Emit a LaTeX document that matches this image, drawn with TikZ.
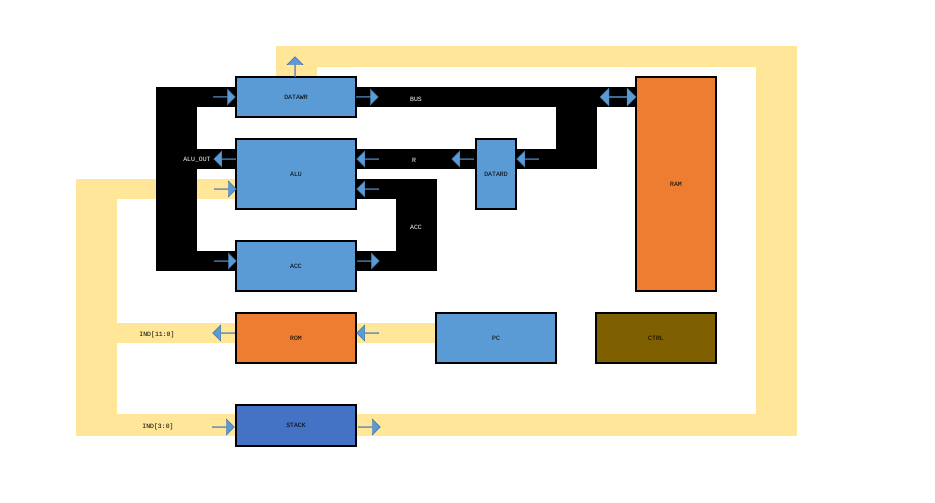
\documentclass[tikz,border=0pt]{standalone}
\usepackage{fontspec}
\setmainfont{Liberation Mono}
\usetikzlibrary{shapes.arrows}
\definecolor{blu}{HTML}{5B9BD5}
\definecolor{blub}{HTML}{41719C}
\definecolor{org}{HTML}{ED7D31}
\definecolor{brn}{HTML}{7F6000}
\definecolor{stk}{HTML}{4472C4}
\definecolor{yel}{HTML}{FFE699}
\begin{document}
\begin{tikzpicture}[x=1pt,y=-1pt,
  box/.style={draw=black,line width=1.5pt},
  lbl/.style={font=\fontsize{6.5}{7}\selectfont},
  wl/.style={lbl,text=white},
  arr/.style={single arrow,fill=blu,draw=blub,line width=0.4pt,minimum height=22pt,minimum width=16pt,single arrow head extend=3pt,inner sep=0pt},
  darr/.style={double arrow,fill=blu,draw=blub,line width=0.4pt,minimum height=36pt,minimum width=18pt,double arrow head extend=3pt,inner sep=0pt}]
\useasboundingbox (0,0) rectangle (935,503);
% yellow bands
\fill[yel] (276,46) rectangle (797,67);
\fill[yel] (276,46) rectangle (317,77);
\fill[yel] (756,46) rectangle (797,436);
\fill[yel] (76,414) rectangle (797,436);
\fill[yel] (76,179) rectangle (117,436);
\fill[yel] (76,179) rectangle (236,199);
\fill[yel] (117,323) rectangle (436,343);
% black bands
\fill[black] (156,87) rectangle (636,107);
\fill[black] (556,87) rectangle (597,169);
\fill[black] (156,149) rectangle (597,169);
\fill[black] (156,87) rectangle (197,271);
\fill[black] (156,251) rectangle (236,271);
\fill[black] (356,179) rectangle (437,199);
\fill[black] (396,179) rectangle (437,271);
\fill[black] (356,251) rectangle (437,271);
% boxes
\node[box,fill=blu,lbl,minimum width=120pt,minimum height=40pt] (datawr) at (296,97) {DATAWR};
\node[box,fill=blu,lbl,minimum width=120pt,minimum height=70pt] (alu) at (296,174) {ALU};
\node[box,fill=blu,lbl,minimum width=120pt,minimum height=50pt] (acc) at (296,266) {ACC};
\node[box,fill=blu,lbl,minimum width=40pt,minimum height=70pt] (datard) at (496,174) {DATARD};
\node[box,fill=org,lbl,minimum width=80pt,minimum height=214pt] (ram) at (676,184) {RAM};
\node[box,fill=org,lbl,minimum width=120pt,minimum height=50pt] (rom) at (296,338) {ROM};
\node[box,fill=blu,lbl,minimum width=120pt,minimum height=50pt] (pc) at (496,338) {PC};
\node[box,fill=brn,lbl,minimum width=120pt,minimum height=50pt] (ctrl) at (656,338) {CTRL};
\node[box,fill=stk,lbl,minimum width=120pt,minimum height=41pt] (stack) at (296,425.5) {STACK};
% arrows
\node[arr] (a1) at (224,97) {};
\node[arr] (a2) at (367,97) {};
\node[darr] (a3) at (618,97) {};
\node[arr,shape border rotate=90,minimum height=20pt] (a4) at (295,67) {};
\node[arr,shape border rotate=180] (a5) at (225,159) {};
\node[arr,shape border rotate=180] (a6) at (368,159) {};
\node[arr,shape border rotate=180] (a7) at (463,159) {};
\node[arr,shape border rotate=180] (a8) at (528,159) {};
\node[arr] (a9) at (225,189) {};
\node[arr,shape border rotate=180] (a10) at (368,189) {};
\node[arr] (a11) at (225,261) {};
\node[arr] (a12) at (368,261) {};
\node[arr,shape border rotate=180] (a13) at (224,333) {};
\node[arr,shape border rotate=180] (a14) at (368,333) {};
\node[arr] (a15) at (223,427) {};
\node[arr] (a16) at (369,427) {};
% labels
\node[wl] (lbus) at (416,99) {BUS};
\node[wl] (lr) at (414,160) {R};
\node[wl] (lao) at (197,160) {ALU\_OUT};
\node[wl] (lacc) at (416,227) {ACC};
\node[lbl] (li11) at (157,335) {IND[11:0]};
\node[lbl] (li3) at (158,427) {IND[3:0]};
\end{tikzpicture}
\end{document}
